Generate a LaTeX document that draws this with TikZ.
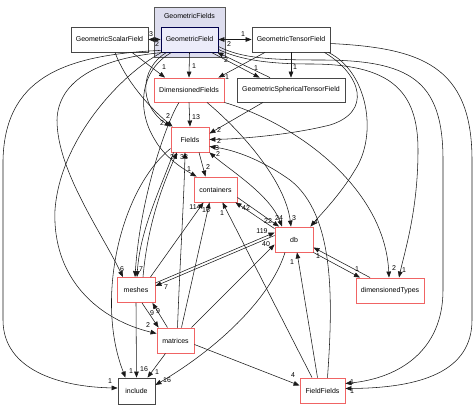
\documentclass[tikz,border=0pt]{standalone}
\usepackage{fontspec}
\setmainfont{Liberation Sans}
\usetikzlibrary{arrows.meta}
\definecolor{dred}{RGB}{240,100,100}
\definecolor{clfill}{RGB}{221,221,238}
\definecolor{gffill}{RGB}{236,236,250}
\definecolor{edgec}{RGB}{25,25,25}
\newcommand\dxf{\fontsize{7}{8}\selectfont}
\tikzset{
  e/.style={draw=edgec, line width=0.55pt, -{Triangle[length=6pt,width=4.6pt]}},
  ee/.style={draw=edgec, line width=0.55pt, {Triangle[length=6pt,width=4.6pt]}-{Triangle[length=6pt,width=4.6pt]}},
  dirbox/.style={draw=black!72, line width=0.8pt, fill=white, rectangle, inner sep=0pt, minimum height=25pt, font=\dxf},
  rbox/.style={dirbox, draw=dred, line width=0.9pt},
  lbl/.style={font=\dxf, inner sep=0pt},
}
\begin{document}
\begin{tikzpicture}[x=1pt,y=-1pt]
\useasboundingbox (0,0) rectangle (474,406);
% cluster
\node[draw=black!65, line width=0.8pt, fill=clfill, minimum width=71pt, minimum height=50pt, inner sep=0pt] (cl) at (189.5,32) {};
\node[font=\dxf] (cltitle) at (189.5,16) {GeometricFields};
% nodes
\node[dirbox, fill=gffill, draw=black!70!blue, minimum width=57pt] (GF) at (189.5,39.5) {GeometricField};
\node[dirbox, minimum width=77pt] (GSF) at (109.5,39.5) {GeometricScalarField};
\node[dirbox, minimum width=78pt] (GTF) at (291,39.5) {GeometricTensorField};
\node[rbox, minimum width=70pt, minimum height=24pt] (DF) at (189,90) {DimensionedFields};
\node[dirbox, minimum width=108pt, minimum height=24pt] (GSTF) at (291,90) {GeometricSphericalTensorField};
\node[rbox, minimum width=38pt] (Fields) at (190,139.5) {Fields};
\node[rbox, minimum width=43pt] (containers) at (215.5,189.5) {containers};
\node[rbox, minimum width=38pt] (db) at (294,239.5) {db};
\node[rbox, minimum width=68pt] (dimTypes) at (390,290.5) {dimensionedTypes};
\node[rbox, minimum width=38pt] (meshes) at (136,290) {meshes};
\node[rbox, minimum width=37pt] (matrices) at (175.5,340.5) {matrices};
\node[dirbox, minimum width=37pt, minimum height=26pt] (include) at (136.5,391) {include};
\node[rbox, minimum width=45pt] (FieldFields) at (322.5,390.5) {FieldFields};
% edges
\draw[ee] (GSF.east) -- (GF.west);
\draw[ee] (GF.east) -- (GTF.west);
\draw[e] (GF.south) -- (DF.north);
\draw[e] ([xshift=22.5pt]GSF.south) -- ([xshift=-24pt]DF.north);
\draw[e] ([xshift=5.5pt]GSF.south) .. controls (125,80) and (150,108) .. ([xshift=2pt]Fields.north west);
\draw[e] ([xshift=6pt]GF.south west) .. controls (140,68) and (138,105) .. (Fields.north west);
\draw[e] ([xshift=-26pt]GTF.south) -- ([xshift=-6pt]DF.north east);
\draw[e] ([xshift=-7pt]GF.south east) -- ([xshift=23pt]GSTF.north west);
\draw[e] ([xshift=-21pt]GSTF.north) -- ([xshift=-1pt]GF.south east);
\draw[e] (GTF.south) -- (GSTF.north);
\draw[e] (DF.south) -- (Fields.north);
\draw[e] ([xshift=-28pt]GSTF.south) -- ([yshift=6pt]Fields.east);
\draw[e] ([xshift=-6pt]GTF.south east) .. controls (362,75) and (372,112) .. (330,125) .. controls (290,135) and (240,139) .. (Fields.east);
\draw[e] ([xshift=5pt]FieldFields.north) .. controls (333,300) and (335,215) .. (290,180) .. controls (262,160) and (235,150) .. ([yshift=-7pt]Fields.east);
\draw[ee] (Fields.south east) .. controls (230,170) and (270,195) .. ([xshift=-12pt]db.north);
\draw[e] ([xshift=9pt]Fields.south) -- ([xshift=-10pt]containers.north);
\draw[e] ([xshift=11pt]GF.south west) .. controls (140,70) and (136,110) .. (155,140) .. controls (165,158) and (185,170) .. ([xshift=3pt]containers.north west);
\draw[e] ([yshift=5pt]containers.south east) -- ([xshift=-15pt]db.north);
\draw[e] ([yshift=-2pt]db.north west) -- ([xshift=-2pt]containers.south east);
\draw[e] ([xshift=18pt]DF.south) .. controls (240,130) and (285,180) .. ([xshift=-3pt]db.north);
\draw[e] ([xshift=-2pt]GTF.south east) .. controls (368,72) and (378,135) .. (355,170) .. controls (340,195) and (322,213) .. ([xshift=-3pt]db.north east);
\draw[e] (DF.south east) .. controls (300,125) and (385,190) .. ([xshift=-1pt]dimTypes.north);
\draw[e] ([yshift=3pt]GF.south east) .. controls (240,60) and (270,64) .. (310,64) .. controls (390,64) and (418,90) .. (418,150) .. controls (418,210) and (405,250) .. ([xshift=9pt]dimTypes.north);
\draw[e] ([xshift=-20pt]dimTypes.north) -- ([yshift=-8pt]db.east);
\draw[e] (db.south east) -- ([xshift=-30pt]dimTypes.north);
\draw[e] ([yshift=6pt]GF.south east) .. controls (240,58) and (270,60) .. (320,60) .. controls (410,60) and (443,80) .. (443,160) -- (443,290) .. controls (443,350) and (400,378) .. ([yshift=7pt]FieldFields.east);
\draw[e] ([yshift=-4pt]GTF.east) .. controls (420,48) and (472,65) .. (472,160) -- (472,320) .. controls (472,372) and (420,388) .. ([yshift=2pt]FieldFields.east);
\draw[e] ([yshift=7pt]meshes.east) -- ([yshift=7pt]db.west);
\draw[e] ([yshift=4pt]db.west) -- ([yshift=4pt]meshes.east);
\draw[e] ([xshift=-3pt]matrices.north east) -- ([yshift=-5pt]db.west);
\draw[e] ([xshift=-5pt]FieldFields.north) -- ([xshift=3pt]db.south);
\draw[e] ([xshift=-10.5pt]FieldFields.north) -- ([xshift=7pt]containers.south);
\draw[e] ([xshift=-5pt]meshes.north east) -- ([xshift=-12pt]containers.south);
\draw[e] ([xshift=6pt]matrices.north) -- ([xshift=-6pt]containers.south);
\draw[e] ([xshift=7pt]meshes.north) .. controls (148,220) and (165,180) .. ([xshift=-13pt]Fields.south);
\draw[e] ([xshift=2pt]matrices.north) .. controls (180,260) and (184,200) .. ([xshift=-5pt]Fields.south);
\draw[e] ([xshift=3pt]Fields.south west) .. controls (160,190) and (140,230) .. ([xshift=1pt]meshes.north);
\draw[e] ([xshift=-10pt]DF.south) .. controls (165,125) and (140,200) .. ([xshift=-1pt]meshes.north);
\draw[e] ([xshift=3pt]GF.south west) .. controls (100,58) and (58,80) .. (57,120) .. controls (57,170) and (100,230) .. ([xshift=-13pt]meshes.north);
\draw[e] ([xshift=1pt]GF.south west) .. controls (120,75) and (60,140) .. (55,210) .. controls (52,280) and (100,320) .. ([yshift=7pt]matrices.west);
\draw[e] ([yshift=2pt]GF.south west) .. controls (60,55) and (5,80) .. (3,160) -- (3,320) .. controls (3,370) and (60,387) .. ([yshift=3pt]include.west);
\draw[e] ([yshift=-9pt]Fields.west) .. controls (120,190) and (95,300) .. ([xshift=-11pt]include.north);
\draw[e] (meshes.south) -- (include.north);
\draw[e] ([xshift=-10pt]matrices.south) -- ([xshift=11pt]include.north);
\draw[e] ([xshift=-9pt]db.south) .. controls (270,300) and (215,350) .. ([yshift=6pt]include.east);
\draw[e] ([yshift=-4pt]matrices.east) -- ([yshift=5pt]FieldFields.west);
\draw[e] ([xshift=6pt]meshes.south) -- ([xshift=2pt]matrices.north west);
\draw[e] ([xshift=-8pt]matrices.north) -- ([xshift=-3pt]meshes.south east);
% labels
\node[lbl] (l1) at (194,66) {1};
\node[lbl] (l2) at (151,34) {3};
\node[lbl] (l3) at (157,44) {2};
\node[lbl] (l4) at (229,44) {2};
\node[lbl] (l5) at (243,34) {1};
\node[lbl] (l6) at (164,67) {1};
\node[lbl] (l7) at (168,116) {2};
\node[lbl] (l8) at (162,123) {2};
\node[lbl] (l9) at (227,77) {1};
\node[lbl] (l10) at (256,68) {1};
\node[lbl] (l11) at (226,60) {2};
\node[lbl] (l12) at (295,67) {1};
\node[lbl] (l13) at (196,117) {13};
\node[lbl] (l14) at (219,130) {2};
\node[lbl] (l15) at (219,141) {2};
\node[lbl] (l16) at (217,148) {3};
\node[lbl] (l17) at (218,154) {2};
\node[lbl] (l18) at (279,218) {24};
\node[lbl] (l19) at (208,167) {2};
\node[lbl] (l20) at (189,169) {1};
\node[lbl] (l21) at (246,208) {42};
\node[lbl] (l22) at (268,221) {22};
\node[lbl] (l23) at (294,218) {3};
\node[lbl] (l24) at (316,222) {4};
\node[lbl] (l25) at (394,268) {2};
\node[lbl] (l26) at (404,270) {1};
\node[lbl] (l27) at (318,256) {1};
\node[lbl] (l28) at (357,269) {1};
\node[lbl] (l29) at (352,382) {1};
\node[lbl] (l30) at (352,391) {1};
\node[lbl] (l31) at (262,231) {119};
\node[lbl] (l32) at (166,287) {7};
\node[lbl] (l33) at (266,244) {40};
\node[lbl] (l34) at (292,262) {1};
\node[lbl] (l35) at (222,213) {1};
\node[lbl] (l36) at (195,207) {114};
\node[lbl] (l37) at (206,210) {16};
\node[lbl] (l38) at (174,157) {27};
\node[lbl] (l39) at (184,157) {38};
\node[lbl] (l40) at (141,269) {7};
\node[lbl] (l41) at (122,269) {6};
\node[lbl] (l42) at (148,325) {2};
\node[lbl] (l43) at (110,381) {1};
\node[lbl] (l44) at (131,371) {1};
\node[lbl] (l45) at (144,369) {16};
\node[lbl] (l46) at (157,372) {1};
\node[lbl] (l47) at (167,380) {16};
\node[lbl] (l48) at (293,375) {4};
\node[lbl] (l49) at (152,313) {9};
\node[lbl] (l50) at (158,311) {9};
\end{tikzpicture}
\end{document}
